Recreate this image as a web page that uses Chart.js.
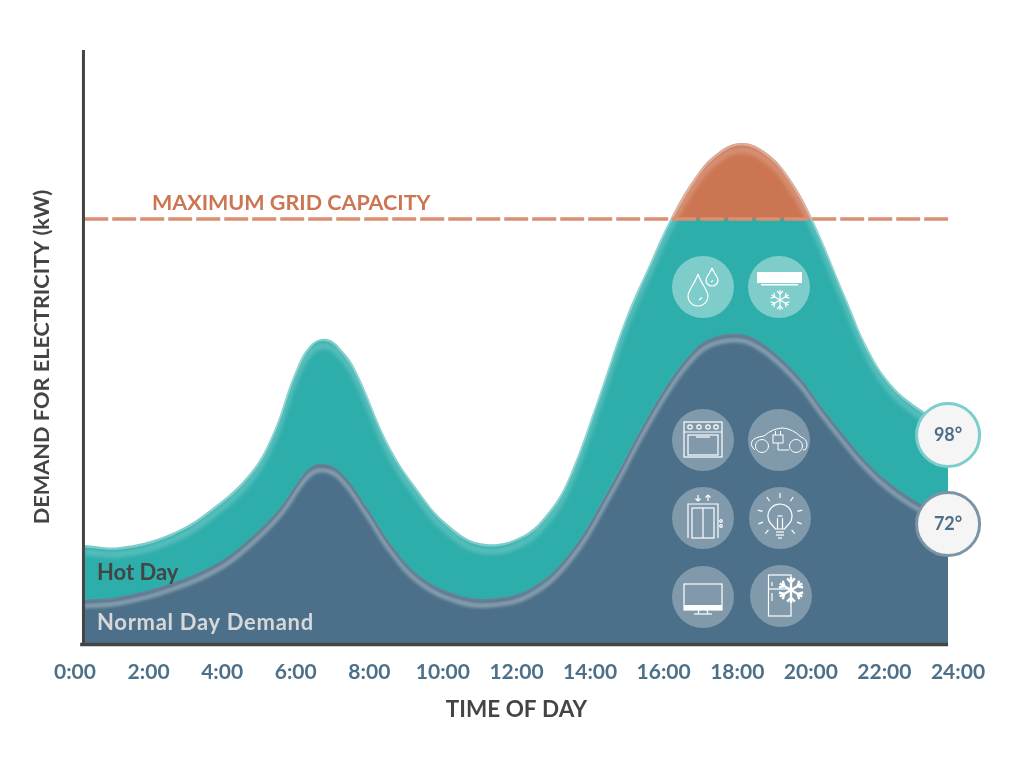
<!DOCTYPE html>
<html>
<head>
<meta charset="utf-8">
<title>Demand for electricity</title>
<script src="https://cdn.jsdelivr.net/npm/chart.js@4"></script>
<style>
  html, body { margin: 0; padding: 0; background: #fff; }
  canvas { display: block; }
</style>
</head>
<body>
<canvas id="chart" width="1024" height="768"></canvas>
<script>
// values (hours, demand in relative units)
const hotHours = [0.25, 1.22, 2.58, 3.67, 4.76, 5.38, 5.95, 6.4, 6.85, 7.3, 7.67, 8.56, 9.38, 10.06, 11.0, 12.1, 12.91, 13.45, 14.2, 14.95, 15.58, 16.17, 16.9, 17.5, 18.13, 18.8, 19.4, 20.03, 20.98, 21.53, 22.15, 22.89, 23.73];
const hotDemand = [100, 98, 111, 135, 172, 212, 270, 300, 306, 293, 272, 198, 152, 123, 102, 108, 135, 170, 245, 325, 378, 425, 470, 493, 502, 492, 468, 427, 345, 298, 262, 238, 220];
const normalHours = [0.25, 1.22, 2.58, 3.94, 4.76, 5.57, 6.31, 6.71, 7.2, 7.94, 8.56, 9.38, 10.46, 11.28, 12.37, 13.45, 14.54, 15.41, 16.17, 16.8, 17.26, 17.89, 18.35, 18.97, 19.71, 20.25, 20.74, 21.47, 22.15, 22.97, 23.73];
const normalDemand = [44, 47, 60, 82, 105, 135, 173, 180, 172, 135, 100, 67, 48, 45, 55, 90, 155, 215, 262, 292, 305, 310, 307, 292, 265, 238, 215, 183, 160, 140, 129];
const capacityHours = [0.25, 23.73];
const capacityDemand = [426, 426];
const axisHours = [0.23, 0.23];
const axisDemand = [0, 595];
const baseHours = [0.14, 23.73];
const baseDemand = [0.5, 0.5];
const badgeHours = [23.73, 23.73];
const badgeDemand = [210, 121];
const badgeLabels = ['98°', '72°'];
const xTicks = [0, 2, 4, 6, 8, 10, 12, 14, 16, 18, 20, 22, 24];

const FONT = 'Lato, "Open Sans", sans-serif';

function pts(xs, ys) {
  return xs.map((x, i) => ({ x: x, y: ys[i] }));
}

function line(ctx, x1, y1, x2, y2) {
  ctx.beginPath();
  ctx.moveTo(x1, y1);
  ctx.lineTo(x2, y2);
  ctx.stroke();
}

function snowflake(ctx, x, y, r) {
  for (let i = 0; i < 6; i++) {
    ctx.save();
    ctx.translate(x, y);
    ctx.rotate(i * Math.PI / 3);
    line(ctx, 0, 0, 0, -r);
    line(ctx, 0, -r * 0.6, -r * 0.3, -r * 0.9);
    line(ctx, 0, -r * 0.6, r * 0.3, -r * 0.9);
    ctx.restore();
  }
}

function drop(ctx, x, top, bottom, halfW) {
  const r = halfW;
  const cy = bottom - r;
  ctx.beginPath();
  ctx.moveTo(x, top);
  ctx.bezierCurveTo(x + r * 0.3, top + (cy - top) * 0.45, x + r, cy - r * 0.6, x + r, cy);
  ctx.arc(x, cy, r, 0, Math.PI);
  ctx.bezierCurveTo(x - r, cy - r * 0.6, x - r * 0.3, top + (cy - top) * 0.45, x, top);
  ctx.stroke();
}

// little line icons, coordinates are relative to the circle centre
const icons = {
  drops(ctx) {
    drop(ctx, -5, -13, 19, 10);
    drop(ctx, 9, -19, -1, 6);
    line(ctx, -4, 13, -1, 10.5);
    line(ctx, 8, -5, 10, -6.5);
  },
  ac(ctx) {
    ctx.fillRect(-22, -15, 45, 11);
    ctx.fillRect(-18, -3, 37, 1.5);
    snowflake(ctx, 1, 13, 10);
  },
  oven(ctx) {
    ctx.strokeRect(-19, -18, 38, 35);
    line(ctx, -19, -8, 19, -8);
    [-13, -4, 5, 13].forEach(x => {
      ctx.beginPath();
      ctx.arc(x, -13, 2.2, 0, Math.PI * 2);
      ctx.stroke();
    });
    ctx.strokeRect(-15, -5, 30, 20);
    line(ctx, -7, -3, 7, -3);
  },
  car(ctx) {
    ctx.lineWidth = 1;
    ctx.beginPath();
    ctx.moveTo(-24, 10);
    ctx.quadraticCurveTo(-29, 6, -27, 1);
    ctx.quadraticCurveTo(-24, -3, -15, -4);
    ctx.quadraticCurveTo(-6, -12, 4, -12);
    ctx.quadraticCurveTo(14, -11, 22, -3);
    ctx.quadraticCurveTo(28, -1, 28, 5);
    ctx.quadraticCurveTo(28, 10, 24, 10);
    ctx.moveTo(10, 10);
    ctx.lineTo(-1, 10);
    ctx.lineTo(-1, 3);
    ctx.stroke();
    [-17, 17].forEach(x => {
      ctx.beginPath();
      ctx.arc(x, 6, 6.5, 0, Math.PI * 2);
      ctx.stroke();
    });
    ctx.strokeRect(-6, -5, 10, 8);
    line(ctx, -3.5, -5, -3.5, -9);
    line(ctx, 1.5, -5, 1.5, -9);
  },
  elevator(ctx) {
    ctx.beginPath();
    ctx.moveTo(-15, 20);
    ctx.lineTo(-15, -14);
    ctx.lineTo(15, -14);
    ctx.lineTo(15, 20);
    ctx.stroke();
    ctx.strokeRect(-11, -10, 22, 30);
    line(ctx, 0, -10, 0, 20);
    line(ctx, -5, -23, -5, -17);
    line(ctx, -7.5, -19.5, -5, -17);
    line(ctx, -2.5, -19.5, -5, -17);
    line(ctx, 5, -23, 5, -17);
    line(ctx, 2.5, -20.5, 5, -23);
    line(ctx, 7.5, -20.5, 5, -23);
    [3, 8].forEach(y => {
      ctx.beginPath();
      ctx.arc(18, y, 1.3, 0, Math.PI * 2);
      ctx.stroke();
    });
  },
  bulb(ctx) {
    ctx.beginPath();
    ctx.arc(0, -2, 12, Math.PI * 0.72, Math.PI * 0.28);
    ctx.lineTo(4.5, 11);
    ctx.lineTo(-4.5, 11);
    ctx.closePath();
    ctx.stroke();
    line(ctx, -2.5, 11, -2.5, 0);
    line(ctx, 2.5, 11, 2.5, 0);
    line(ctx, -2.5, -2, 2.5, -2);
    [14, 17].forEach(y => line(ctx, -4, y, 4, y));
    line(ctx, -2, 20, 2, 20);
    [-90, -55, -125, -15, -165, 20, 160, 50, 130].forEach(d => {
      const a = d * Math.PI / 180;
      line(ctx, Math.cos(a) * 18, -2 + Math.sin(a) * 18, Math.cos(a) * 23, -2 + Math.sin(a) * 23);
    });
  },
  monitor(ctx) {
    ctx.strokeRect(-19, -13, 38, 26);
    ctx.fillRect(-19, 8, 38, 5);
    line(ctx, -4, 13, -5, 17);
    line(ctx, 4, 13, 5, 17);
    line(ctx, -9, 17, 9, 17);
  },
  fridge(ctx) {
    ctx.strokeRect(-12.5, -21, 22.5, 41);
    line(ctx, -12.5, -7, 10, -7);
    line(ctx, -9, -14, -9, -10);
    line(ctx, -9, -3, -9, 5);
    ctx.lineWidth = 2.4;
    snowflake(ctx, 10, -6, 13);
  }
};

const iconSpots = [
  { icon: 'drops', x: 703, y: 287, alpha: 0.39 },
  { icon: 'ac', x: 779, y: 287, alpha: 0.39 },
  { icon: 'oven', x: 703, y: 440, alpha: 0.29 },
  { icon: 'car', x: 779, y: 440, alpha: 0.29 },
  { icon: 'elevator', x: 703, y: 518, alpha: 0.29 },
  { icon: 'bulb', x: 780, y: 518, alpha: 0.29 },
  { icon: 'monitor', x: 703, y: 597, alpha: 0.29 },
  { icon: 'fridge', x: 781, y: 596, alpha: 0.29 }
];

// soft bevel: some of the line datasets are drawn shifted and blurred
const bevelPlugin = {
  id: 'bevel',
  beforeDatasetDraw(chart, args) {
    const ds = chart.data.datasets[args.index];
    if (!ds.shift && !ds.blur) return;
    chart.ctx.save();
    chart.ctx.translate(0, ds.shift || 0);
    if (ds.blur) chart.ctx.filter = `blur(${ds.blur}px)`;
  },
  afterDatasetDraw(chart, args) {
    const ds = chart.data.datasets[args.index];
    if (!ds.shift && !ds.blur) return;
    chart.ctx.restore();
  }
};

const overlayPlugin = {
  id: 'overlay',
  afterDatasetsDraw(chart) {
    const ctx = chart.ctx;
    ctx.save();

    iconSpots.forEach(s => {
      ctx.fillStyle = `rgba(255,255,255,${s.alpha})`;
      ctx.beginPath();
      ctx.arc(s.x, s.y, 31, 0, Math.PI * 2);
      ctx.fill();
      ctx.save();
      ctx.translate(s.x, s.y);
      ctx.strokeStyle = '#fff';
      ctx.fillStyle = '#fff';
      ctx.lineWidth = 1.2;
      icons[s.icon](ctx);
      ctx.restore();
    });

    ctx.textBaseline = 'middle';
    ctx.textAlign = 'left';
    ctx.font = `bold 21.5px ${FONT}`;
    ctx.fillStyle = '#cc7552';
    ctx.fillText('MAXIMUM GRID CAPACITY', 152, 203);
    ctx.font = `bold 22px ${FONT}`;
    ctx.fillStyle = '#444444';
    ctx.fillText('Hot Day', 97, 573);
    ctx.fillStyle = '#d6d8da';
    ctx.letterSpacing = '0.7px';
    ctx.fillText('Normal Day Demand', 97, 623);
    ctx.letterSpacing = '0px';

    // y title sits a little below the middle of the axis in the original
    ctx.save();
    ctx.translate(42, 357);
    ctx.rotate(-Math.PI / 2);
    ctx.textAlign = 'center';
    ctx.font = `bold 21.7px ${FONT}`;
    ctx.fillStyle = '#444444';
    ctx.fillText('DEMAND FOR ELECTRICITY (kW)', 0, 0);
    ctx.restore();

    // labels on the two badge points
    const meta = chart.getDatasetMeta(chart.data.datasets.findIndex(d => d.label === 'Badges'));
    ctx.textAlign = 'center';
    ctx.font = `bold 18px ${FONT}`;
    ctx.fillStyle = '#4c7089';
    meta.data.forEach((p, i) => ctx.fillText(badgeLabels[i], p.x, p.y));

    ctx.restore();
  }
};

new Chart(document.getElementById('chart'), {
  type: 'line',
  plugins: [bevelPlugin, overlayPlugin],
  data: {
    datasets: [
      // baseline and left axis line
      { label: 'Base', data: pts(baseHours, baseDemand), borderColor: '#444444', borderWidth: 3.5, pointRadius: 0, order: 1, clip: false },
      { label: 'Axis', data: pts(axisHours, axisDemand), borderColor: '#444444', borderWidth: 3, pointRadius: 0, order: 1, clip: false },
      { label: 'Badges', data: pts(badgeHours, badgeDemand), showLine: false, pointRadius: 31.5, pointHoverRadius: 31.5, pointBackgroundColor: '#f5f5f5',
        pointBorderWidth: 3, pointBorderColor: ['#7ccdcb', '#7a95a5'], order: 0, clip: false },
      { label: 'Maximum grid capacity', data: pts(capacityHours, capacityDemand), borderColor: '#da8f71', borderWidth: 3.6, borderDash: [24, 4], pointRadius: 0, order: 2 },
      // normal day
      { label: 'Normal edge', data: pts(normalHours, normalDemand), tension: 0.4, borderColor: 'rgba(105,125,148,0.95)', borderWidth: 2.5, pointRadius: 0, order: 3 },
      { label: 'Normal glow', data: pts(normalHours, normalDemand), tension: 0.4, borderColor: 'rgba(255,255,255,0.32)', borderWidth: 5, pointRadius: 0, order: 4, shift: 5, blur: 1.5 },
      { label: 'Normal Day Demand', data: pts(normalHours, normalDemand), tension: 0.4, borderWidth: 0, pointRadius: 0, backgroundColor: '#4c7089', fill: 'origin', order: 5 },
      // hot day
      { label: 'Hot edge', data: pts(hotHours, hotDemand), tension: 0.4, borderColor: 'rgba(255,255,255,0.36)', borderWidth: 3, pointRadius: 0, order: 6, shift: 1 },
      { label: 'Hot glow', data: pts(hotHours, hotDemand), tension: 0.4, borderColor: 'rgba(255,255,255,0.22)', borderWidth: 6, pointRadius: 0, order: 7, shift: 7, blur: 2 },
      { label: 'Over capacity', data: pts(hotHours, hotDemand), tension: 0.4, borderWidth: 0, pointRadius: 0,
        fill: { target: { value: capacityDemand[0] }, above: '#cc7552', below: 'rgba(0,0,0,0)' }, order: 8 },
      { label: 'Hot Day', data: pts(hotHours, hotDemand), tension: 0.4, borderWidth: 0, pointRadius: 0, backgroundColor: '#2eaeab', fill: 'origin', order: 9 }
    ]
  },
  options: {
    responsive: false,
    animation: false,
    events: [],
    layout: { padding: { top: 50, right: 66, bottom: 0, left: 0 } },
    plugins: { legend: { display: false }, tooltip: { enabled: false } },
    scales: {
      x: {
        type: 'linear',
        min: 0,
        max: 24,
        afterBuildTicks(scale) { scale.ticks = xTicks.map(v => ({ value: v })); },
        afterFit(scale) { scale.height = 123; },
        grid: { display: false, drawTicks: false },
        border: { display: false },
        ticks: {
          maxRotation: 0,
          autoSkip: false,
          padding: 15,
          color: '#4c7089',
          font: { family: FONT, size: 21, weight: 'bold' },
          callback: v => `${v}:00`
        },
        title: {
          display: true,
          text: 'TIME OF DAY',
          color: '#444444',
          font: { family: FONT, size: 22.5, weight: 'bold' },
          padding: { top: 14, bottom: 45 }
        }
      },
      y: {
        min: 0,
        max: 595,
        afterFit(scale) { scale.width = 75; },
        grid: { display: false, drawTicks: false },
        border: { display: false },
        ticks: { display: false }
      }
    }
  }
});
</script>
</body>
</html>
